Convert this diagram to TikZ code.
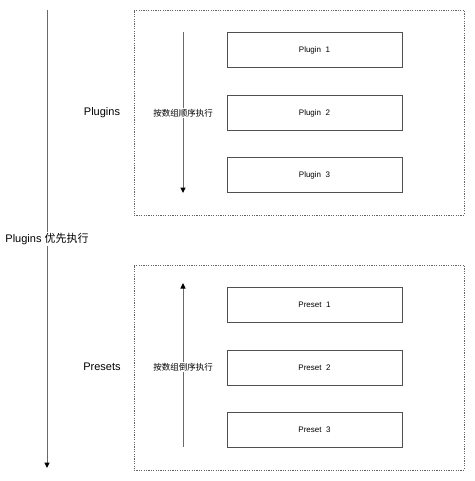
\documentclass[tikz,border=0pt]{standalone}
\usepackage{fontspec}
\setmainfont{Liberation Sans}
\newfontfamily\cjk{Noto Sans CJK SC}
\usepackage{tikz}
\usetikzlibrary{arrows.meta, positioning}
\definecolor{linegray}{RGB}{105,105,105}
\definecolor{boxgray}{RGB}{80,80,80}
\definecolor{dotgray}{RGB}{100,100,100}
\tikzset{
  itembox/.style={rectangle, draw=boxgray, fill=white, line width=1pt,
    minimum width=175pt, minimum height=35pt, font=\fontsize{8}{9}\selectfont},
  groupbox/.style={rectangle, draw=dotgray, line width=0.8pt,
    dash pattern=on 1.2pt off 1.2pt, minimum width=330pt, minimum height=205pt},
  flow/.style={-{Triangle[length=5.5pt,width=5pt,color=black]}, line width=1pt, color=linegray},
  grouplabel/.style={font=\fontsize{11}{13}\selectfont, fill=white, inner sep=1pt},
  orderlabel/.style={font=\cjk\fontsize{8.5}{10}\selectfont, fill=white, inner sep=1pt}
}
\begin{document}
\begin{tikzpicture}[x=1pt, y=-1pt]
  \useasboundingbox (0,0) rectangle (474,481);

  % overall order
  \coordinate (mainTop) at (47,10);
  \coordinate (mainBot) at (47,468);
  \draw[flow] (mainTop) -- (mainBot);
  \node[grouplabel] (mainLabel) at (47,239) {Plugins {\cjk 优先执行}};

  % Plugins group
  \node[groupbox] (pluginGroup) at (299,112.5) {};
  \node[grouplabel] (pluginTitle) at (102,113) {Plugins};
  \foreach \i/\y in {1/50, 2/113, 3/175}
    \node[itembox] (plugin\i) at (314.5,\y) {Plugin\ \ \i};
  \coordinate (plugTop) at (183,32);
  \coordinate (plugBot) at (183,193);
  \draw[flow] (plugTop) -- (plugBot);
  \node[orderlabel] (plugOrder) at (183,113) {按数组顺序执行};

  % Presets group
  \node[groupbox] (presetGroup) at (299,367.5) {};
  \node[grouplabel] (presetTitle) at (102,367) {Presets};
  \foreach \i/\y in {1/305, 2/367.5, 3/430}
    \node[itembox] (preset\i) at (314.5,\y) {Preset\ \ \i};
  \coordinate (preBot) at (183,447);
  \coordinate (preTop) at (183,283);
  \draw[flow] (preBot) -- (preTop);
  \node[orderlabel] (preOrder) at (183,367) {按数组倒序执行};
\end{tikzpicture}
\end{document}
